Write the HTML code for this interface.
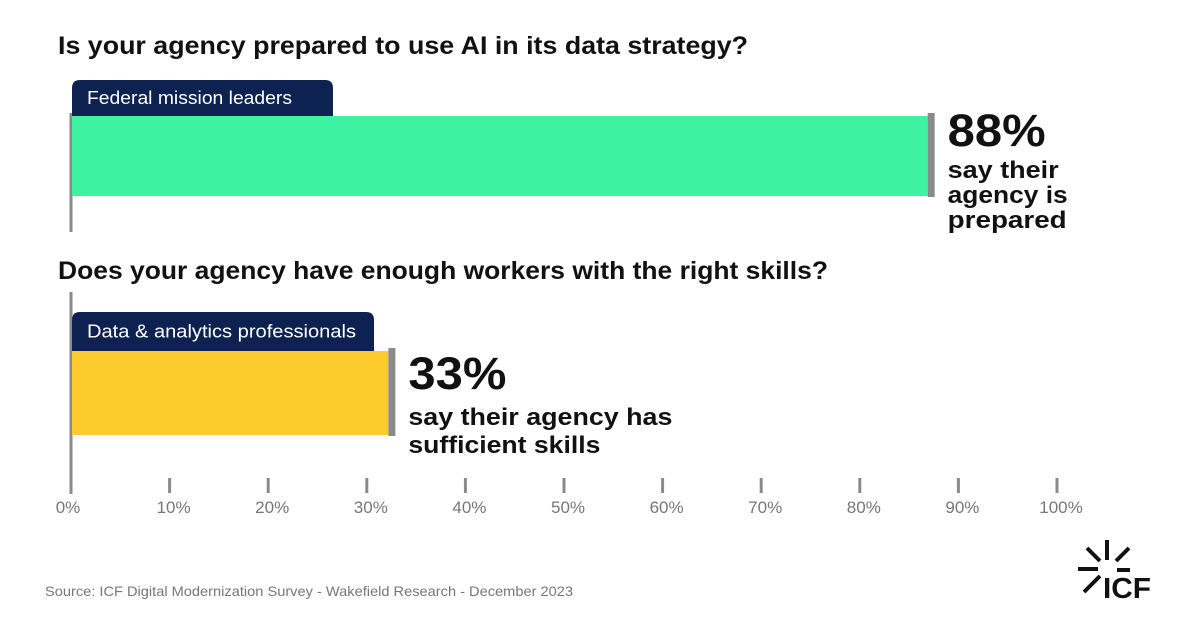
<!DOCTYPE html>
<html><head><meta charset="utf-8"><style>
html,body{margin:0;padding:0;background:#fff;}
body{width:1200px;height:627px;overflow:hidden;position:relative;font-family:"Liberation Sans",sans-serif;}
</style></head><body>
<svg id="chart" width="1200" height="627" viewBox="0 0 1200 627" xmlns="http://www.w3.org/2000/svg" font-family="Liberation Sans, sans-serif"></svg>
<script>
const categories = ["Federal mission leaders", "Data & analytics professionals"];
const values = [88, 33];
const tickValues = [0,10,20,30,40,50,60,70,80,90,100];
const tickLabels = ["0%","10%","20%","30%","40%","50%","60%","70%","80%","90%","100%"];

const svg = document.getElementById('chart');
const NS = 'http://www.w3.org/2000/svg';
const x0 = 71, x1 = 1057;
function xScale(v){ return x0 + (v/100)*(x1-x0); }
function mk(tag, attrs, text){
  const e = document.createElementNS(NS, tag);
  for (const k in attrs) e.setAttribute(k, attrs[k]);
  if (text !== undefined) e.textContent = text;
  svg.appendChild(e); return e;
}
let t;
t = mk('text',{x:58,y:54,'font-size':25,'font-weight':'bold',fill:'#111',textLength:690,lengthAdjust:'spacingAndGlyphs'},'Is your agency prepared to use AI in its data strategy?');


t = mk('text',{x:58,y:279,'font-size':25,'font-weight':'bold',fill:'#111',textLength:770,lengthAdjust:'spacingAndGlyphs'},'Does your agency have enough workers with the right skills?');



t = mk('line',{x1:x0,y1:113,x2:x0,y2:232,stroke:'#8a8a8a','stroke-width':3});


t = mk('line',{x1:x0,y1:292,x2:x0,y2:494,stroke:'#8a8a8a','stroke-width':3});



tickValues.forEach((v,i)=>{
  const x = xScale(v);
  if (i>0){
    const l = mk('line',{x1:x,y1:478,x2:x,y2:493,stroke:'#8a8a8a','stroke-width':3});
    
    
  }
  const tx = mk('text',{x:x+(i===0?-3:4),y:513,'font-size':17,'text-anchor':'middle',fill:'#777'},tickLabels[i]);
  
  
});

const bars = [
  {y:116,h:80,tabY:80,tabW:261,color:'#3df2a1',labW:205,lines:['say their','agency is','prepared'],lw:[111,120,119]},
  {y:351,h:84,tabY:312,tabW:302,color:'#fecb2f',labW:269,lines:['say their agency has','sufficient skills'],lw:[264,192]}
];
bars.forEach((b,i)=>{
  const xe = xScale(values[i]) - (i===0?3:0);
  const tabH = b.y - b.tabY;
  const tab = mk('path',{d:`M${x0+1},${b.y} V${b.tabY+8} Q${x0+1},${b.tabY} ${x0+9},${b.tabY} H${x0+1+b.tabW-8} Q${x0+1+b.tabW},${b.tabY} ${x0+1+b.tabW},${b.tabY+8} V${b.y} Z`,fill:'#0d2250'});
  
  
  const tl = mk('text',{x:x0+16,y:b.tabY+tabH/2+6,'font-size':18,fill:'#fff',textLength:b.labW,lengthAdjust:'spacingAndGlyphs'},categories[i]);
  
  
  const r = mk('rect',{x:x0+1,y:b.y,width:xe-8-x0-1,height:b.h,fill:b.color});
  
  
  const m = mk('rect',{x:xe-8,y:b.y-3,width:7,height:b.h+4,fill:'#8a8a8a'});
  
  
  const vx = xe+12;
  const vt = mk('text',{x:vx,y:b.y+30+(i?8:0),'font-size':45,'font-weight':'bold',fill:'#111',textLength:98,lengthAdjust:'spacingAndGlyphs'},values[i]+'%');
  
  
  b.lines.forEach((ln,j)=>{
    const d = mk('text',{x:vx,y:b.y+62+(i?12:0)+j*(i?28:25),'font-size':24,'font-weight':'bold',fill:'#111',textLength:b.lw[j],lengthAdjust:'spacingAndGlyphs'},ln);
    
    
  });
});

t = mk('text',{x:45,y:596,'font-size':14,fill:'#777',textLength:528,lengthAdjust:'spacingAndGlyphs'},'Source: ICF Digital Modernization Survey - Wakefield Research - December 2023');



const g = document.createElementNS(NS,'g');


svg.appendChild(g);
[[1107,540,1107,560],[1087,548,1100,561],[1129,548,1116,561],[1078,569,1098,569],[1084,592,1100,576],[1117,570,1130,570]].forEach(c=>{
  const l = document.createElementNS(NS,'line');
  l.setAttribute('x1',c[0]);l.setAttribute('y1',c[1]);l.setAttribute('x2',c[2]);l.setAttribute('y2',c[3]);
  l.setAttribute('stroke','#111');l.setAttribute('stroke-width',4);
  g.appendChild(l);
});
const lt = document.createElementNS(NS,'text');
lt.setAttribute('x',1103);lt.setAttribute('y',598);lt.setAttribute('font-size',29);lt.setAttribute('font-weight','bold');lt.setAttribute('fill','#111');
lt.setAttribute('textLength',48);lt.setAttribute('lengthAdjust','spacingAndGlyphs');
lt.textContent='ICF';
g.appendChild(lt);
</script>
</body></html>
